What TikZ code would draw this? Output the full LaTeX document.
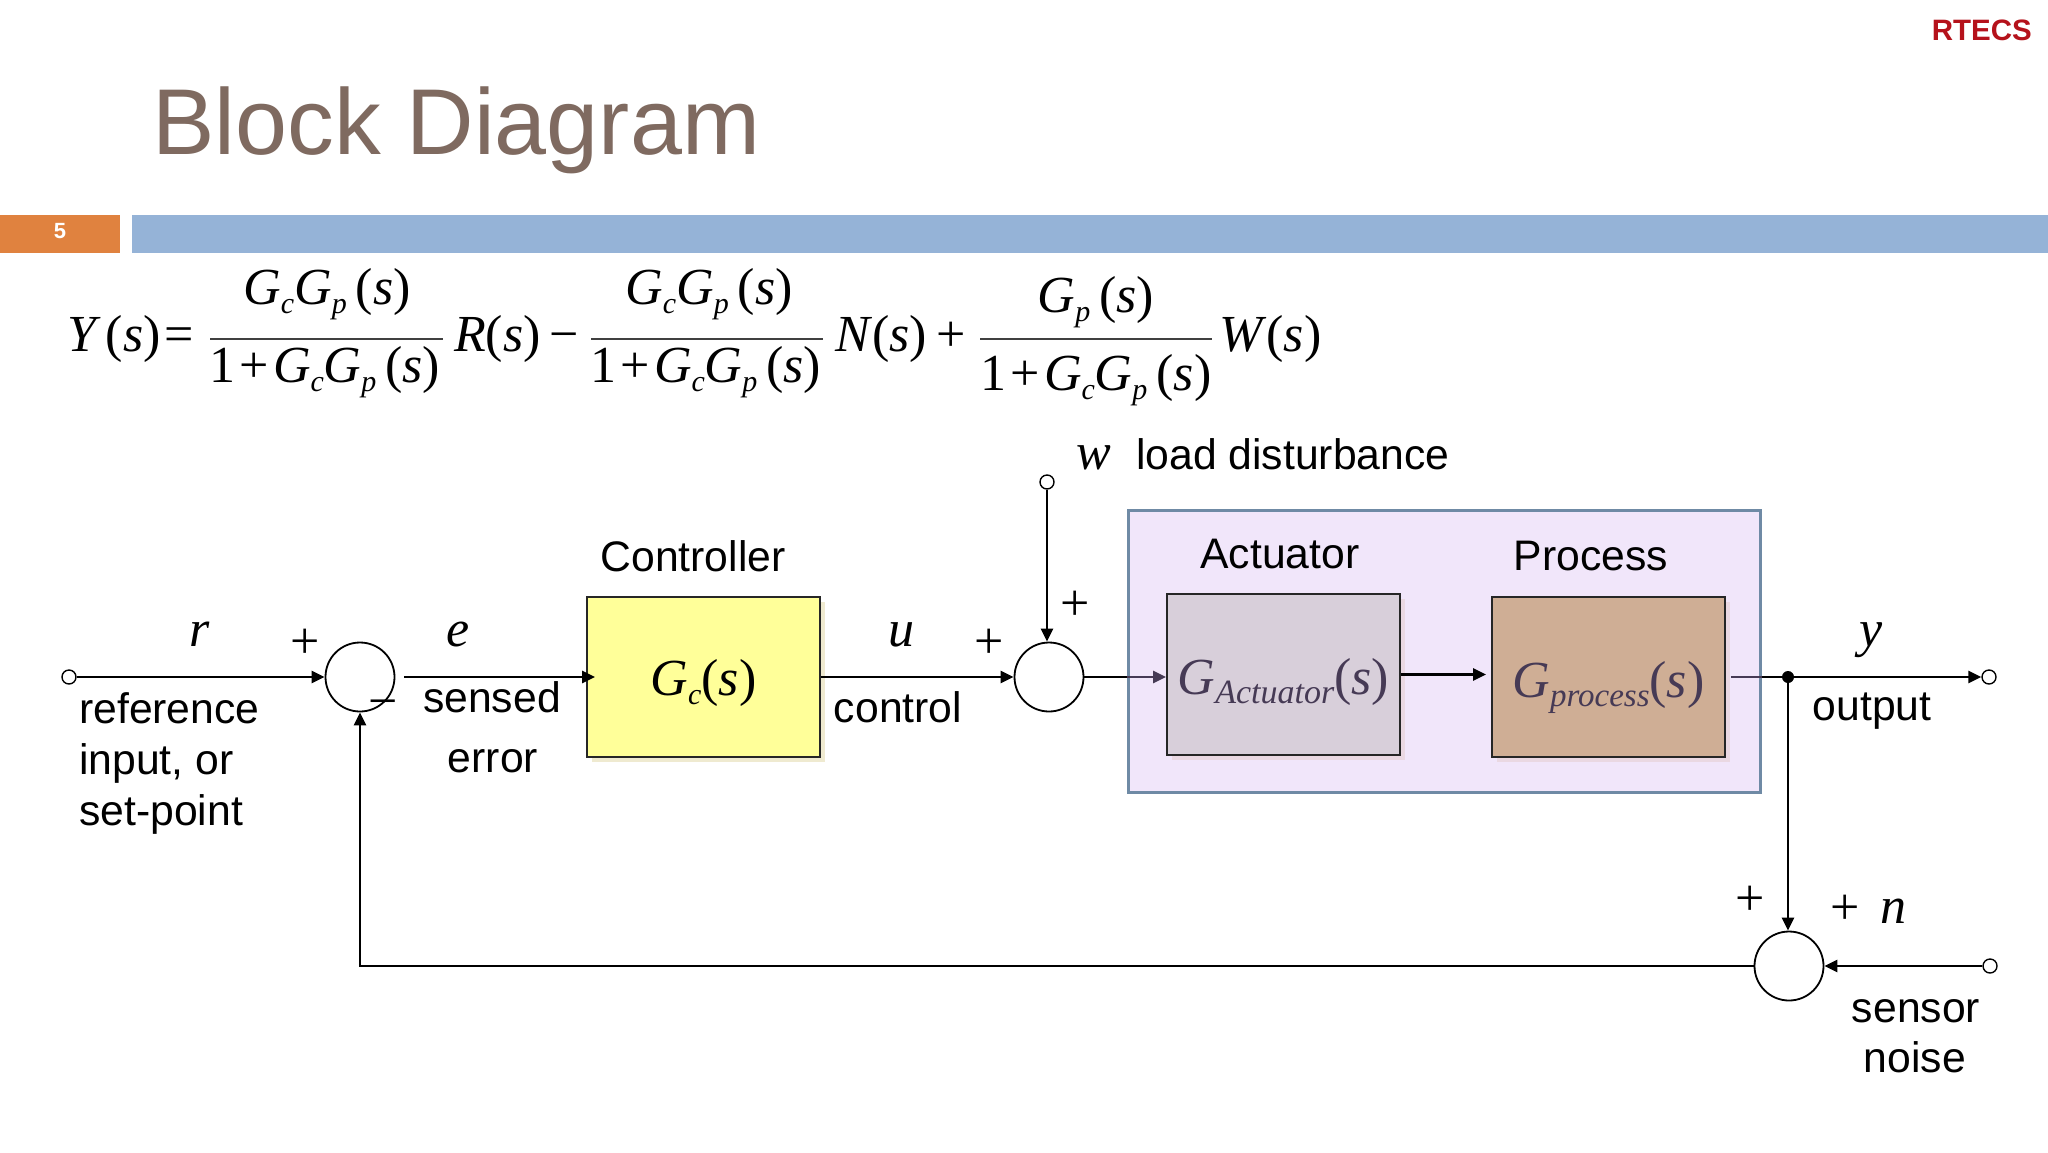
\documentclass[tikz,border=0pt]{standalone}
\usepackage{fontspec}
\setmainfont{Liberation Serif}
\setsansfont{Liberation Sans}
\usetikzlibrary{
  arrows.meta,
  shadows
}
\definecolor{titlebrown}{HTML}{7F6A60}
\definecolor{rtecsred}{HTML}{B5121B}
\definecolor{barblue}{HTML}{95B3D7}
\definecolor{barorange}{HTML}{E0823F}
\definecolor{framefill}{HTML}{F1E6FA}
\definecolor{frameline}{HTML}{6F8AA5}
\definecolor{dimink}{HTML}{463A55}
\definecolor{ctrlfill}{HTML}{FFFF99}
\definecolor{ctrlshadow}{HTML}{EFEAD0}
\definecolor{actfill}{HTML}{D8CFDA}
\definecolor{procfill}{HTML}{CFAE95}
\definecolor{innershadow}{HTML}{EAD8E2}
\newcommand{\lowered}[2][30]{\raisebox{-9pt}{\fontsize{#1}{#1}\selectfont\textit{#2}}}
\newcommand{\argS}{(\textit{s})}
\newcommand{\Gsub}[2][30]{\textit{G}\lowered[#1]{#2}}
\newcommand{\GcGp}{\Gsub{c}\Gsub{p}\hspace{9pt}\argS}
\newcommand{\oneplus}{1\hspace{4pt}+\hspace{4pt}}
\tikzset{
  >={Triangle[length=13pt,width=12pt]},
  wire/.style = {line width=2.4pt},
  dimwire/.style = {wire, draw=dimink, color=dimink},
  words/.style = {font=\sffamily\fontsize{42.7}{48}\selectfont, anchor=base, inner sep=0pt},
  sym/.style = {font=\fontsize{52}{60}\selectfont, anchor=base, inner sep=0pt},
  plus/.style = {font=\fontsize{52}{60}\selectfont, inner sep=0pt},
  fracbar/.style = {line width=1.5pt, draw=black!75},
  sumcircle/.style = {circle, draw, line width=1.8pt, minimum size=69pt, inner sep=0pt},
  terminal/.style = {circle, draw, line width=1.4pt, fill=white, minimum size=14pt, inner sep=0pt},
  blockbox/.style = {rectangle, draw=black!85, line width=1.8pt, minimum width=233pt,
    font=\fontsize{52}{60}\selectfont, inner sep=0pt, text depth=0pt,
    drop shadow={shadow xshift=5pt, shadow yshift=-5pt, opacity=1, fill=#1}},
}
\begin{document}
\begin{tikzpicture}[x=1pt,y=-1pt]
\useasboundingbox (0,0) rectangle (2048,1152);
\fill[white] (0,0) rectangle (2048,1152);
% slide header
\node (title) [anchor=base west, inner sep=0pt, text=titlebrown,
  font=\sffamily\fontsize{93.5}{100}\selectfont] at (152,154) {Block Diagram};
\node (rtecs) [anchor=east, inner sep=0pt, text=rtecsred,
  font=\sffamily\bfseries\fontsize{29.5}{32}\selectfont] at (2032,30) {RTECS};
\fill[barorange] (0,215) rectangle (120,253);
\fill[barblue] (132,215) rectangle (2048,253);
\node (pagenum) [text=white, inner sep=0pt, font=\sffamily\bfseries\fontsize{22}{24}\selectfont] at (60,231) {5};
% transfer function
\node (eqy) [sym, anchor=base west] at (67,351) {\textit{Y}\hspace{5pt}\argS\hspace{4pt}=};
\node (numa) [sym] at (327,304.5) {\GcGp};
\node (dena) [sym] at (325,382) {\oneplus\GcGp};
\draw[fracbar] (210,339) -- (443,339);
\node (eqr) [sym, anchor=base west] at (454,351) {\textit{R}\argS\hspace{9pt}−};
\node (numb) [sym] at (709,304.5) {\GcGp};
\node (denb) [sym] at (706,382) {\oneplus\GcGp};
\draw[fracbar] (591,339) -- (823,339);
\node (eqn) [sym, anchor=base west] at (835,351) {\textit{N}\argS\hspace{9pt}+};
\node (numc) [sym] at (1096,312.5) {\Gsub{p}\hspace{9pt}\argS};
\node (denc) [sym] at (1096,390) {\oneplus\GcGp};
\draw[fracbar] (980,339) -- (1212,339);
\node (eqw) [sym, anchor=base west] at (1219,351) {\textit{W}\argS};
% shaded group
\node (frame) [rectangle, draw=frameline, fill=framefill, line width=3pt,
  minimum width=632pt, minimum height=282pt] at (1444,651) {};
% blocks
\node (ctrl) [blockbox=ctrlshadow, fill=ctrlfill, minimum height=160pt, text height=36pt] at (703.5,677) {\Gsub{c}\argS};
\node (act) [blockbox=innershadow, fill=actfill, minimum height=161pt, text height=39pt, text=dimink] at (1283.5,674.5) {\Gsub[34]{Actuator}\argS};
\node (proc) [blockbox=innershadow, fill=procfill, minimum height=160pt, text height=40pt, text=dimink] at (1608.5,677) {\Gsub[33]{process}\argS};
% summing points and terminals
\node (sumr) [sumcircle] at (360,677) {};
\node (sumu) [sumcircle] at (1049,677) {};
\node (sumn) [sumcircle] at (1789,966) {};
\node (termr) [terminal] at (69,677) {};
\node (termw) [terminal] at (1047,482) {};
\node (termy) [terminal] at (1989,677) {};
\node (termn) [terminal] at (1990,966) {};
\node (joint) [circle, fill=black, minimum size=12pt, inner sep=0pt] at (1788,677) {};
% connectors
\draw[wire,->] (termr) -- (sumr);
\draw[wire,->,shorten <=9pt,shorten >=-9pt] (sumr) -- (ctrl);
\draw[wire,->] (ctrl) -- (sumu);
\draw[wire,->] (termw) -- (termw |- sumu.north);
\draw[wire] (sumu) -- (frame.west |- sumu);
\draw[dimwire,->] (frame.west |- sumu) -- (act.west |- sumu);
\draw[wire,->,shorten >=5pt] (act) -- (proc.west |- act);
\draw[dimwire,shorten <=5pt] (proc) -- (frame.east |- proc);
\draw[wire] (frame.east |- proc) -- (joint);
\draw[wire,->] (joint) -- (termy);
\draw[wire,->] (joint) -- (joint |- sumn.north);
\draw[wire,->] (termn) -- (sumn);
\draw[wire,->] (sumn) -| (sumr);
% signs
\foreach \sname/\sx/\sy in {plusr/305/644, plusu/989/644, plusw/1075/606, plusf/1750/901, plusn/1845/910}
  \node (\sname) [plus] at (\sx,\sy) {+};
\node (minusr) [plus] at (383,709) {−};
% signals
\node (symr) [sym] at (200,646) {\textit{r}};
\node (syme) [sym] at (458,646) {\textit{e}};
\node (symu) [sym] at (901,646) {\textit{u}};
\node (symw) [sym] at (1094,469) {\textit{w}};
\node (symy) [sym] at (1871,646) {\textit{y}};
\node (symn) [sym] at (1893,923) {\textit{n}};
% labels
\node (lblref) [words, anchor=base west] at (79,723) {reference};
\node (lblinp) [words, anchor=base west] at (79,774) {input, or};
\node (lblset) [words, anchor=base west] at (79,825) {set-point};
\node (lblsen) [words] at (492,712) {sensed};
\node (lblerr) [words] at (493,772) {error};
\node (lblctl) [words] at (693,571) {Controller};
\node (lblcon) [words] at (898,722) {control};
\node (lblload) [words, anchor=base west] at (1136,469) {load disturbance};
\node (lblact) [words] at (1280,568) {Actuator};
\node (lblproc) [words] at (1591,570) {Process};
\node (lblout) [words] at (1872,720) {output};
\node (lblsns) [words] at (1916,1022) {sensor};
\node (lblnoi) [words] at (1915,1072) {noise};
\end{tikzpicture}
\end{document}
